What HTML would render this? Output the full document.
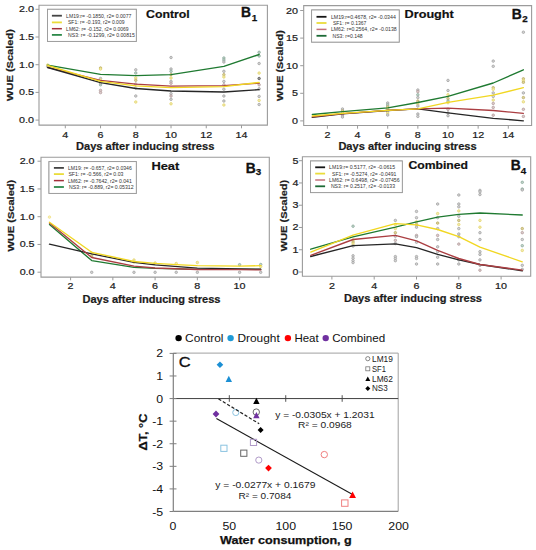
<!DOCTYPE html>
<html><head><meta charset="utf-8"><title>Figure</title>
<style>html,body{margin:0;padding:0;background:#fff;}svg{display:block;}</style>
</head><body>
<svg width="536" height="550" viewBox="0 0 536 550" font-family='"Liberation Sans", sans-serif'>
<rect width="536" height="550" fill="#fff"/>
<path d="M39,5.2 H267.4 V125.1 H39 Z" fill="none" stroke="#9b9b9b" stroke-width="1.1"/>
<line x1="35.50" y1="120.10" x2="39.00" y2="120.10" stroke="#9b9b9b" stroke-width="1"/>
<text x="34.00" y="123.10" font-size="9.6" text-anchor="end" textLength="14.95" lengthAdjust="spacingAndGlyphs" fill="#1c1c1c" stroke="#1c1c1c" stroke-width="0.22">0.0</text>
<line x1="35.50" y1="92.40" x2="39.00" y2="92.40" stroke="#9b9b9b" stroke-width="1"/>
<text x="34.00" y="95.40" font-size="9.6" text-anchor="end" textLength="14.95" lengthAdjust="spacingAndGlyphs" fill="#1c1c1c" stroke="#1c1c1c" stroke-width="0.22">0.5</text>
<line x1="35.50" y1="64.70" x2="39.00" y2="64.70" stroke="#9b9b9b" stroke-width="1"/>
<text x="34.00" y="67.70" font-size="9.6" text-anchor="end" textLength="14.95" lengthAdjust="spacingAndGlyphs" fill="#1c1c1c" stroke="#1c1c1c" stroke-width="0.22">1.0</text>
<line x1="35.50" y1="37.00" x2="39.00" y2="37.00" stroke="#9b9b9b" stroke-width="1"/>
<text x="34.00" y="40.00" font-size="9.6" text-anchor="end" textLength="14.95" lengthAdjust="spacingAndGlyphs" fill="#1c1c1c" stroke="#1c1c1c" stroke-width="0.22">1.5</text>
<line x1="35.50" y1="9.30" x2="39.00" y2="9.30" stroke="#9b9b9b" stroke-width="1"/>
<text x="34.00" y="12.30" font-size="9.6" text-anchor="end" textLength="14.95" lengthAdjust="spacingAndGlyphs" fill="#1c1c1c" stroke="#1c1c1c" stroke-width="0.22">2.0</text>
<line x1="65.30" y1="125.10" x2="65.30" y2="128.30" stroke="#9b9b9b" stroke-width="1"/>
<text x="65.30" y="137.90" font-size="9.6" text-anchor="middle" textLength="5.98" lengthAdjust="spacingAndGlyphs" fill="#1c1c1c" stroke="#1c1c1c" stroke-width="0.22">4</text>
<line x1="100.54" y1="125.10" x2="100.54" y2="128.30" stroke="#9b9b9b" stroke-width="1"/>
<text x="100.54" y="137.90" font-size="9.6" text-anchor="middle" textLength="5.98" lengthAdjust="spacingAndGlyphs" fill="#1c1c1c" stroke="#1c1c1c" stroke-width="0.22">6</text>
<line x1="135.78" y1="125.10" x2="135.78" y2="128.30" stroke="#9b9b9b" stroke-width="1"/>
<text x="135.78" y="137.90" font-size="9.6" text-anchor="middle" textLength="5.98" lengthAdjust="spacingAndGlyphs" fill="#1c1c1c" stroke="#1c1c1c" stroke-width="0.22">8</text>
<line x1="171.02" y1="125.10" x2="171.02" y2="128.30" stroke="#9b9b9b" stroke-width="1"/>
<text x="171.02" y="137.90" font-size="9.6" text-anchor="middle" textLength="11.96" lengthAdjust="spacingAndGlyphs" fill="#1c1c1c" stroke="#1c1c1c" stroke-width="0.22">10</text>
<line x1="206.26" y1="125.10" x2="206.26" y2="128.30" stroke="#9b9b9b" stroke-width="1"/>
<text x="206.26" y="137.90" font-size="9.6" text-anchor="middle" textLength="11.96" lengthAdjust="spacingAndGlyphs" fill="#1c1c1c" stroke="#1c1c1c" stroke-width="0.22">12</text>
<line x1="241.50" y1="125.10" x2="241.50" y2="128.30" stroke="#9b9b9b" stroke-width="1"/>
<text x="241.50" y="137.90" font-size="9.6" text-anchor="middle" textLength="11.96" lengthAdjust="spacingAndGlyphs" fill="#1c1c1c" stroke="#1c1c1c" stroke-width="0.22">14</text>
<text x="76.00" y="149.50" font-size="10.0" font-weight="bold" textLength="138.3" lengthAdjust="spacingAndGlyphs" fill="#1c1c1c" stroke="#1c1c1c" stroke-width="0.2">Days after inducing stress</text>
<text transform="translate(13.30,100.90) rotate(-90)" x="0" y="0" font-size="9.7" font-weight="bold" fill="#1c1c1c" stroke="#1c1c1c" stroke-width="0.2" textLength="71.8" lengthAdjust="spacingAndGlyphs">WUE (Scaled)</text>
<rect x="47.5" y="9.3" width="88.80000000000001" height="32.099999999999994" fill="#fff" stroke="#999" stroke-width="0.9"/>
<circle cx="47.68" cy="65.00" r="1.25" fill="#f2eab0" stroke="#e3d46a" stroke-width="0.75"/>
<circle cx="47.68" cy="66.50" r="1.25" fill="#d4d4d4" stroke="#a0a0a0" stroke-width="0.75"/>
<circle cx="100.54" cy="68.00" r="1.25" fill="#dcd49c" stroke="#b8a860" stroke-width="0.75"/>
<circle cx="100.54" cy="69.00" r="1.25" fill="#f2eab0" stroke="#e3d46a" stroke-width="0.75"/>
<circle cx="100.54" cy="78.50" r="1.25" fill="#d4d4d4" stroke="#a0a0a0" stroke-width="0.75"/>
<circle cx="100.54" cy="84.80" r="1.25" fill="#c4d4cc" stroke="#88a898" stroke-width="0.75"/>
<circle cx="100.54" cy="90.40" r="1.25" fill="#dccccc" stroke="#b09898" stroke-width="0.75"/>
<circle cx="100.54" cy="92.60" r="1.25" fill="#dccccc" stroke="#b09898" stroke-width="0.75"/>
<circle cx="100.54" cy="80.00" r="1.25" fill="#f2eab0" stroke="#e3d46a" stroke-width="0.75"/>
<circle cx="100.54" cy="83.00" r="1.25" fill="#d4d4d4" stroke="#a0a0a0" stroke-width="0.75"/>
<circle cx="135.78" cy="69.80" r="1.25" fill="#d4d4d4" stroke="#a0a0a0" stroke-width="0.75"/>
<circle cx="135.78" cy="73.00" r="1.25" fill="#c4d4cc" stroke="#88a898" stroke-width="0.75"/>
<circle cx="135.78" cy="78.00" r="1.25" fill="#f2eab0" stroke="#e3d46a" stroke-width="0.75"/>
<circle cx="135.78" cy="80.30" r="1.25" fill="#dcd49c" stroke="#b8a860" stroke-width="0.75"/>
<circle cx="135.78" cy="96.00" r="1.25" fill="#d4d4d4" stroke="#a0a0a0" stroke-width="0.75"/>
<circle cx="135.78" cy="102.00" r="1.25" fill="#f2eab0" stroke="#e3d46a" stroke-width="0.75"/>
<circle cx="135.78" cy="84.00" r="1.25" fill="#dccccc" stroke="#b09898" stroke-width="0.75"/>
<circle cx="135.78" cy="88.00" r="1.25" fill="#d4d4d4" stroke="#a0a0a0" stroke-width="0.75"/>
<circle cx="171.02" cy="57.50" r="1.25" fill="#d4d4d4" stroke="#a0a0a0" stroke-width="0.75"/>
<circle cx="171.02" cy="69.00" r="1.25" fill="#d4d4d4" stroke="#a0a0a0" stroke-width="0.75"/>
<circle cx="171.02" cy="71.30" r="1.25" fill="#c4d4cc" stroke="#88a898" stroke-width="0.75"/>
<circle cx="171.02" cy="74.70" r="1.25" fill="#dcd49c" stroke="#b8a860" stroke-width="0.75"/>
<circle cx="171.02" cy="78.00" r="1.25" fill="#f2eab0" stroke="#e3d46a" stroke-width="0.75"/>
<circle cx="171.02" cy="81.40" r="1.25" fill="#d4d4d4" stroke="#a0a0a0" stroke-width="0.75"/>
<circle cx="171.02" cy="83.20" r="1.25" fill="#dccccc" stroke="#b09898" stroke-width="0.75"/>
<circle cx="171.02" cy="93.70" r="1.25" fill="#d4d4d4" stroke="#a0a0a0" stroke-width="0.75"/>
<circle cx="171.02" cy="96.00" r="1.25" fill="#dccccc" stroke="#b09898" stroke-width="0.75"/>
<circle cx="171.02" cy="99.30" r="1.25" fill="#d4d4d4" stroke="#a0a0a0" stroke-width="0.75"/>
<circle cx="171.02" cy="103.80" r="1.25" fill="#f2eab0" stroke="#e3d46a" stroke-width="0.75"/>
<circle cx="223.88" cy="58.00" r="1.25" fill="#c4d4cc" stroke="#88a898" stroke-width="0.75"/>
<circle cx="223.88" cy="60.00" r="1.25" fill="#c4d4cc" stroke="#88a898" stroke-width="0.75"/>
<circle cx="223.88" cy="62.00" r="1.25" fill="#d4d4d4" stroke="#a0a0a0" stroke-width="0.75"/>
<circle cx="223.88" cy="71.30" r="1.25" fill="#d4d4d4" stroke="#a0a0a0" stroke-width="0.75"/>
<circle cx="223.88" cy="74.70" r="1.25" fill="#dcd49c" stroke="#b8a860" stroke-width="0.75"/>
<circle cx="223.88" cy="77.00" r="1.25" fill="#f2eab0" stroke="#e3d46a" stroke-width="0.75"/>
<circle cx="223.88" cy="81.40" r="1.25" fill="#d4d4d4" stroke="#a0a0a0" stroke-width="0.75"/>
<circle cx="223.88" cy="84.80" r="1.25" fill="#dccccc" stroke="#b09898" stroke-width="0.75"/>
<circle cx="223.88" cy="89.20" r="1.25" fill="#d4d4d4" stroke="#a0a0a0" stroke-width="0.75"/>
<circle cx="223.88" cy="96.00" r="1.25" fill="#d4d4d4" stroke="#a0a0a0" stroke-width="0.75"/>
<circle cx="223.88" cy="101.00" r="1.25" fill="#d4d4d4" stroke="#a0a0a0" stroke-width="0.75"/>
<circle cx="223.88" cy="105.00" r="1.25" fill="#f2eab0" stroke="#e3d46a" stroke-width="0.75"/>
<circle cx="259.12" cy="52.30" r="1.25" fill="#c4d4cc" stroke="#88a898" stroke-width="0.75"/>
<circle cx="259.12" cy="56.00" r="1.25" fill="#c4d4cc" stroke="#88a898" stroke-width="0.75"/>
<circle cx="259.12" cy="63.50" r="1.25" fill="#d4d4d4" stroke="#a0a0a0" stroke-width="0.75"/>
<circle cx="259.12" cy="73.10" r="1.25" fill="#f2eab0" stroke="#e3d46a" stroke-width="0.75"/>
<circle cx="259.12" cy="78.50" r="1.25" fill="#999" stroke="#555" stroke-width="0.75"/>
<circle cx="259.12" cy="84.80" r="1.25" fill="#dccccc" stroke="#b09898" stroke-width="0.75"/>
<circle cx="259.12" cy="88.80" r="1.25" fill="#d4d4d4" stroke="#a0a0a0" stroke-width="0.75"/>
<circle cx="259.12" cy="96.40" r="1.25" fill="#d4d4d4" stroke="#a0a0a0" stroke-width="0.75"/>
<circle cx="259.12" cy="100.40" r="1.25" fill="#f2eab0" stroke="#e3d46a" stroke-width="0.75"/>
<circle cx="259.12" cy="104.50" r="1.25" fill="#d4d4d4" stroke="#a0a0a0" stroke-width="0.75"/>
<polyline points="47.68,65.20 100.54,74.40 135.78,75.70 171.02,74.70 223.88,66.40 259.12,54.50" fill="none" stroke="#1f7a31" stroke-width="1.35" stroke-linejoin="round" stroke-linecap="round"/>
<polyline points="47.68,67.30 100.54,80.40 135.78,84.20 171.02,86.20 223.88,85.60 259.12,83.20" fill="none" stroke="#ab3e42" stroke-width="1.35" stroke-linejoin="round" stroke-linecap="round"/>
<polyline points="47.68,67.50 100.54,82.60 135.78,88.50 171.02,91.00 223.88,92.00 259.12,89.70" fill="none" stroke="#262626" stroke-width="1.35" stroke-linejoin="round" stroke-linecap="round"/>
<polyline points="47.68,65.50 100.54,81.40 135.78,85.90 171.02,87.60 223.88,86.60 259.12,82.40" fill="none" stroke="#f1d722" stroke-width="1.35" stroke-linejoin="round" stroke-linecap="round"/>
<rect x="47.5" y="9.3" width="88.80000000000001" height="32.099999999999994" fill="#fff" stroke="#999" stroke-width="0.9"/>
<line x1="51.90" y1="15.70" x2="61.90" y2="15.70" stroke="#444" stroke-width="1.8"/>
<text x="66.10" y="17.70" font-size="5.6" textLength="65.3" lengthAdjust="spacingAndGlyphs" fill="#333333">LM19:r= -0.1850, r2= 0.0077</text>
<line x1="51.90" y1="22.40" x2="61.90" y2="22.40" stroke="#eadc3a" stroke-width="1.8"/>
<text x="68.00" y="24.40" font-size="5.6" textLength="56.5" lengthAdjust="spacingAndGlyphs" fill="#333333">SF1: r= -0.193, r2= 0.009</text>
<line x1="51.90" y1="28.70" x2="61.90" y2="28.70" stroke="#a3303a" stroke-width="1.5"/>
<text x="66.10" y="30.70" font-size="5.6" textLength="62.5" lengthAdjust="spacingAndGlyphs" fill="#333333">LM62: r= -0.152, r2= 0.0069</text>
<line x1="51.90" y1="34.90" x2="61.90" y2="34.90" stroke="#2d8a4a" stroke-width="1.8"/>
<text x="68.00" y="36.90" font-size="5.6" textLength="66.8" lengthAdjust="spacingAndGlyphs" fill="#333333">NS3: r= -0.1299, r2= 0.00815</text>
<text x="146.00" y="18.40" font-size="11.5" font-weight="bold" textLength="43.7" lengthAdjust="spacingAndGlyphs" fill="#111" stroke="#111" stroke-width="0.2">Control</text>
<text x="241.00" y="17.40" font-size="13.8" font-weight="bold" fill="#111" stroke="#111" stroke-width="0.35">B</text>
<text x="251.70" y="20.50" font-size="9.8" font-weight="bold" fill="#111" stroke="#111" stroke-width="0.25">1</text>
<path d="M303.7,5.6 H531.6 V125.5 H303.7 Z" fill="none" stroke="#9b9b9b" stroke-width="1.1"/>
<line x1="300.20" y1="120.90" x2="303.70" y2="120.90" stroke="#9b9b9b" stroke-width="1"/>
<text x="298.00" y="123.90" font-size="9.6" text-anchor="end" textLength="5.98" lengthAdjust="spacingAndGlyphs" fill="#1c1c1c" stroke="#1c1c1c" stroke-width="0.22">0</text>
<line x1="300.20" y1="93.30" x2="303.70" y2="93.30" stroke="#9b9b9b" stroke-width="1"/>
<text x="298.00" y="96.30" font-size="9.6" text-anchor="end" textLength="5.98" lengthAdjust="spacingAndGlyphs" fill="#1c1c1c" stroke="#1c1c1c" stroke-width="0.22">5</text>
<line x1="300.20" y1="65.70" x2="303.70" y2="65.70" stroke="#9b9b9b" stroke-width="1"/>
<text x="298.00" y="68.70" font-size="9.6" text-anchor="end" textLength="11.96" lengthAdjust="spacingAndGlyphs" fill="#1c1c1c" stroke="#1c1c1c" stroke-width="0.22">10</text>
<line x1="300.20" y1="38.10" x2="303.70" y2="38.10" stroke="#9b9b9b" stroke-width="1"/>
<text x="298.00" y="41.10" font-size="9.6" text-anchor="end" textLength="11.96" lengthAdjust="spacingAndGlyphs" fill="#1c1c1c" stroke="#1c1c1c" stroke-width="0.22">15</text>
<line x1="300.20" y1="10.50" x2="303.70" y2="10.50" stroke="#9b9b9b" stroke-width="1"/>
<text x="298.00" y="13.50" font-size="9.6" text-anchor="end" textLength="11.96" lengthAdjust="spacingAndGlyphs" fill="#1c1c1c" stroke="#1c1c1c" stroke-width="0.22">20</text>
<line x1="327.40" y1="125.50" x2="327.40" y2="128.70" stroke="#9b9b9b" stroke-width="1"/>
<text x="327.40" y="137.90" font-size="9.6" text-anchor="middle" textLength="5.98" lengthAdjust="spacingAndGlyphs" fill="#1c1c1c" stroke="#1c1c1c" stroke-width="0.22">2</text>
<line x1="357.55" y1="125.50" x2="357.55" y2="128.70" stroke="#9b9b9b" stroke-width="1"/>
<text x="357.55" y="137.90" font-size="9.6" text-anchor="middle" textLength="5.98" lengthAdjust="spacingAndGlyphs" fill="#1c1c1c" stroke="#1c1c1c" stroke-width="0.22">4</text>
<line x1="387.70" y1="125.50" x2="387.70" y2="128.70" stroke="#9b9b9b" stroke-width="1"/>
<text x="387.70" y="137.90" font-size="9.6" text-anchor="middle" textLength="5.98" lengthAdjust="spacingAndGlyphs" fill="#1c1c1c" stroke="#1c1c1c" stroke-width="0.22">6</text>
<line x1="417.85" y1="125.50" x2="417.85" y2="128.70" stroke="#9b9b9b" stroke-width="1"/>
<text x="417.85" y="137.90" font-size="9.6" text-anchor="middle" textLength="5.98" lengthAdjust="spacingAndGlyphs" fill="#1c1c1c" stroke="#1c1c1c" stroke-width="0.22">8</text>
<line x1="448.00" y1="125.50" x2="448.00" y2="128.70" stroke="#9b9b9b" stroke-width="1"/>
<text x="448.00" y="137.90" font-size="9.6" text-anchor="middle" textLength="11.96" lengthAdjust="spacingAndGlyphs" fill="#1c1c1c" stroke="#1c1c1c" stroke-width="0.22">10</text>
<line x1="478.15" y1="125.50" x2="478.15" y2="128.70" stroke="#9b9b9b" stroke-width="1"/>
<text x="478.15" y="137.90" font-size="9.6" text-anchor="middle" textLength="11.96" lengthAdjust="spacingAndGlyphs" fill="#1c1c1c" stroke="#1c1c1c" stroke-width="0.22">12</text>
<line x1="508.30" y1="125.50" x2="508.30" y2="128.70" stroke="#9b9b9b" stroke-width="1"/>
<text x="508.30" y="137.90" font-size="9.6" text-anchor="middle" textLength="11.96" lengthAdjust="spacingAndGlyphs" fill="#1c1c1c" stroke="#1c1c1c" stroke-width="0.22">14</text>
<text x="338.40" y="149.70" font-size="10.0" font-weight="bold" textLength="138.20000000000005" lengthAdjust="spacingAndGlyphs" fill="#1c1c1c" stroke="#1c1c1c" stroke-width="0.2">Days after inducing stress</text>
<text transform="translate(283.40,101.00) rotate(-90)" x="0" y="0" font-size="9.7" font-weight="bold" fill="#1c1c1c" stroke="#1c1c1c" stroke-width="0.2" textLength="70.8" lengthAdjust="spacingAndGlyphs">WUE (Scaled)</text>
<rect x="311.6" y="10" width="87.59999999999997" height="32.1" fill="#fff" stroke="#999" stroke-width="0.9"/>
<circle cx="342.48" cy="109.00" r="1.25" fill="#d4d4d4" stroke="#a0a0a0" stroke-width="0.75"/>
<circle cx="342.48" cy="111.00" r="1.25" fill="#dcd49c" stroke="#b8a860" stroke-width="0.75"/>
<circle cx="342.48" cy="113.00" r="1.25" fill="#f2eab0" stroke="#e3d46a" stroke-width="0.75"/>
<circle cx="342.48" cy="115.00" r="1.25" fill="#dccccc" stroke="#b09898" stroke-width="0.75"/>
<circle cx="342.48" cy="117.00" r="1.25" fill="#d4d4d4" stroke="#a0a0a0" stroke-width="0.75"/>
<circle cx="387.70" cy="103.00" r="1.25" fill="#d4d4d4" stroke="#a0a0a0" stroke-width="0.75"/>
<circle cx="387.70" cy="105.00" r="1.25" fill="#c4d4cc" stroke="#88a898" stroke-width="0.75"/>
<circle cx="387.70" cy="107.00" r="1.25" fill="#dcd49c" stroke="#b8a860" stroke-width="0.75"/>
<circle cx="387.70" cy="109.00" r="1.25" fill="#f2eab0" stroke="#e3d46a" stroke-width="0.75"/>
<circle cx="387.70" cy="111.00" r="1.25" fill="#d4d4d4" stroke="#a0a0a0" stroke-width="0.75"/>
<circle cx="387.70" cy="113.00" r="1.25" fill="#f2eab0" stroke="#e3d46a" stroke-width="0.75"/>
<circle cx="387.70" cy="115.00" r="1.25" fill="#d4d4d4" stroke="#a0a0a0" stroke-width="0.75"/>
<circle cx="417.85" cy="90.00" r="1.25" fill="#d4d4d4" stroke="#a0a0a0" stroke-width="0.75"/>
<circle cx="417.85" cy="91.70" r="1.25" fill="#dccccc" stroke="#b09898" stroke-width="0.75"/>
<circle cx="417.85" cy="94.80" r="1.25" fill="#c4d4cc" stroke="#88a898" stroke-width="0.75"/>
<circle cx="417.85" cy="97.60" r="1.25" fill="#d4d4d4" stroke="#a0a0a0" stroke-width="0.75"/>
<circle cx="417.85" cy="101.10" r="1.25" fill="#dcd49c" stroke="#b8a860" stroke-width="0.75"/>
<circle cx="417.85" cy="104.00" r="1.25" fill="#f2eab0" stroke="#e3d46a" stroke-width="0.75"/>
<circle cx="417.85" cy="106.00" r="1.25" fill="#d4d4d4" stroke="#a0a0a0" stroke-width="0.75"/>
<circle cx="417.85" cy="114.00" r="1.25" fill="#d4d4d4" stroke="#a0a0a0" stroke-width="0.75"/>
<circle cx="417.85" cy="116.40" r="1.25" fill="#d4d4d4" stroke="#a0a0a0" stroke-width="0.75"/>
<circle cx="448.00" cy="80.40" r="1.25" fill="#d4d4d4" stroke="#a0a0a0" stroke-width="0.75"/>
<circle cx="448.00" cy="90.50" r="1.25" fill="#d4d4d4" stroke="#a0a0a0" stroke-width="0.75"/>
<circle cx="448.00" cy="94.80" r="1.25" fill="#f2eab0" stroke="#e3d46a" stroke-width="0.75"/>
<circle cx="448.00" cy="98.70" r="1.25" fill="#dcd49c" stroke="#b8a860" stroke-width="0.75"/>
<circle cx="448.00" cy="101.10" r="1.25" fill="#c4d4cc" stroke="#88a898" stroke-width="0.75"/>
<circle cx="448.00" cy="102.70" r="1.25" fill="#f2eab0" stroke="#e3d46a" stroke-width="0.75"/>
<circle cx="448.00" cy="109.30" r="1.25" fill="#dccccc" stroke="#b09898" stroke-width="0.75"/>
<circle cx="448.00" cy="112.90" r="1.25" fill="#d4d4d4" stroke="#a0a0a0" stroke-width="0.75"/>
<circle cx="448.00" cy="115.70" r="1.25" fill="#d4d4d4" stroke="#a0a0a0" stroke-width="0.75"/>
<circle cx="493.23" cy="61.10" r="1.25" fill="#d4d4d4" stroke="#a0a0a0" stroke-width="0.75"/>
<circle cx="493.23" cy="66.30" r="1.25" fill="#d4d4d4" stroke="#a0a0a0" stroke-width="0.75"/>
<circle cx="493.23" cy="87.70" r="1.25" fill="#dcd49c" stroke="#b8a860" stroke-width="0.75"/>
<circle cx="493.23" cy="89.30" r="1.25" fill="#f2eab0" stroke="#e3d46a" stroke-width="0.75"/>
<circle cx="493.23" cy="92.90" r="1.25" fill="#d4d4d4" stroke="#a0a0a0" stroke-width="0.75"/>
<circle cx="493.23" cy="96.40" r="1.25" fill="#d4d4d4" stroke="#a0a0a0" stroke-width="0.75"/>
<circle cx="493.23" cy="100.00" r="1.25" fill="#f2eab0" stroke="#e3d46a" stroke-width="0.75"/>
<circle cx="493.23" cy="103.40" r="1.25" fill="#dccccc" stroke="#b09898" stroke-width="0.75"/>
<circle cx="493.23" cy="107.40" r="1.25" fill="#dccccc" stroke="#b09898" stroke-width="0.75"/>
<circle cx="493.23" cy="115.20" r="1.25" fill="#dccccc" stroke="#b09898" stroke-width="0.75"/>
<circle cx="523.38" cy="32.20" r="1.25" fill="#d4d4d4" stroke="#a0a0a0" stroke-width="0.75"/>
<circle cx="523.38" cy="78.80" r="1.25" fill="#dcd49c" stroke="#b8a860" stroke-width="0.75"/>
<circle cx="523.38" cy="80.60" r="1.25" fill="#f2eab0" stroke="#e3d46a" stroke-width="0.75"/>
<circle cx="523.38" cy="82.30" r="1.25" fill="#dcd49c" stroke="#b8a860" stroke-width="0.75"/>
<circle cx="523.38" cy="92.90" r="1.25" fill="#d4d4d4" stroke="#a0a0a0" stroke-width="0.75"/>
<circle cx="523.38" cy="97.60" r="1.25" fill="#dcd49c" stroke="#b8a860" stroke-width="0.75"/>
<circle cx="523.38" cy="101.80" r="1.25" fill="#f2eab0" stroke="#e3d46a" stroke-width="0.75"/>
<circle cx="523.38" cy="109.30" r="1.25" fill="#dccccc" stroke="#b09898" stroke-width="0.75"/>
<circle cx="523.38" cy="116.40" r="1.25" fill="#dccccc" stroke="#b09898" stroke-width="0.75"/>
<polyline points="312.32,114.50 342.48,111.70 387.70,107.90 417.85,102.50 448.00,96.40 493.23,83.00 523.38,69.80" fill="none" stroke="#1f7a31" stroke-width="1.35" stroke-linejoin="round" stroke-linecap="round"/>
<polyline points="312.32,117.30 342.48,113.90 387.70,110.50 417.85,108.90 448.00,112.90 493.23,118.30 523.38,120.80" fill="none" stroke="#262626" stroke-width="1.35" stroke-linejoin="round" stroke-linecap="round"/>
<polyline points="312.32,116.80 342.48,113.60 387.70,110.30 417.85,108.80 448.00,108.20 493.23,110.50 523.38,113.30" fill="none" stroke="#ab3e42" stroke-width="1.35" stroke-linejoin="round" stroke-linecap="round"/>
<polyline points="312.32,116.00 342.48,113.30 387.70,110.30 417.85,108.80 448.00,102.30 493.23,95.20 523.38,87.70" fill="none" stroke="#f1d722" stroke-width="1.35" stroke-linejoin="round" stroke-linecap="round"/>
<rect x="311.6" y="10" width="87.59999999999997" height="32.1" fill="#fff" stroke="#999" stroke-width="0.9"/>
<line x1="316.50" y1="16.80" x2="326.50" y2="16.80" stroke="#151515" stroke-width="1.8"/>
<text x="330.90" y="18.80" font-size="5.6" textLength="64.9" lengthAdjust="spacingAndGlyphs" fill="#333333">LM19:r=0.4678, r2= -0.0344</text>
<line x1="316.50" y1="23.00" x2="326.50" y2="23.00" stroke="#eadc3a" stroke-width="1.8"/>
<text x="332.90" y="25.00" font-size="5.6" textLength="33.5" lengthAdjust="spacingAndGlyphs" fill="#333333">SF1: r= 0.1367</text>
<line x1="316.50" y1="29.40" x2="326.50" y2="29.40" stroke="#c4707a" stroke-width="1.5"/>
<text x="330.90" y="31.40" font-size="5.6" textLength="65.8" lengthAdjust="spacingAndGlyphs" fill="#333333">LM62: r=0.2564, r2= -0.0138</text>
<line x1="316.50" y1="35.80" x2="326.50" y2="35.80" stroke="#1c6a35" stroke-width="1.8"/>
<text x="332.50" y="37.80" font-size="5.6" textLength="30.2" lengthAdjust="spacingAndGlyphs" fill="#333333">NS3: r=0.148</text>
<text x="404.60" y="18.30" font-size="11.5" font-weight="bold" textLength="49.2" lengthAdjust="spacingAndGlyphs" fill="#111" stroke="#111" stroke-width="0.2">Drought</text>
<text x="511.70" y="18.80" font-size="13.8" font-weight="bold" fill="#111" stroke="#111" stroke-width="0.35">B</text>
<text x="522.30" y="21.90" font-size="9.8" font-weight="bold" fill="#111" stroke="#111" stroke-width="0.25">2</text>
<path d="M41.0,157.2 H269.3 V277.1 H41.0 Z" fill="none" stroke="#9b9b9b" stroke-width="1.1"/>
<line x1="37.50" y1="272.20" x2="41.00" y2="272.20" stroke="#9b9b9b" stroke-width="1"/>
<text x="34.60" y="275.20" font-size="9.6" text-anchor="end" textLength="14.95" lengthAdjust="spacingAndGlyphs" fill="#1c1c1c" stroke="#1c1c1c" stroke-width="0.22">0.0</text>
<line x1="37.50" y1="244.45" x2="41.00" y2="244.45" stroke="#9b9b9b" stroke-width="1"/>
<text x="34.60" y="247.45" font-size="9.6" text-anchor="end" textLength="14.95" lengthAdjust="spacingAndGlyphs" fill="#1c1c1c" stroke="#1c1c1c" stroke-width="0.22">0.5</text>
<line x1="37.50" y1="216.70" x2="41.00" y2="216.70" stroke="#9b9b9b" stroke-width="1"/>
<text x="34.60" y="219.70" font-size="9.6" text-anchor="end" textLength="14.95" lengthAdjust="spacingAndGlyphs" fill="#1c1c1c" stroke="#1c1c1c" stroke-width="0.22">1.0</text>
<line x1="37.50" y1="188.95" x2="41.00" y2="188.95" stroke="#9b9b9b" stroke-width="1"/>
<text x="34.60" y="191.95" font-size="9.6" text-anchor="end" textLength="14.95" lengthAdjust="spacingAndGlyphs" fill="#1c1c1c" stroke="#1c1c1c" stroke-width="0.22">1.5</text>
<line x1="37.50" y1="161.20" x2="41.00" y2="161.20" stroke="#9b9b9b" stroke-width="1"/>
<text x="34.60" y="164.20" font-size="9.6" text-anchor="end" textLength="14.95" lengthAdjust="spacingAndGlyphs" fill="#1c1c1c" stroke="#1c1c1c" stroke-width="0.22">2.0</text>
<line x1="70.60" y1="277.10" x2="70.60" y2="280.30" stroke="#9b9b9b" stroke-width="1"/>
<text x="70.60" y="288.70" font-size="9.6" text-anchor="middle" textLength="5.98" lengthAdjust="spacingAndGlyphs" fill="#1c1c1c" stroke="#1c1c1c" stroke-width="0.22">2</text>
<line x1="112.85" y1="277.10" x2="112.85" y2="280.30" stroke="#9b9b9b" stroke-width="1"/>
<text x="112.85" y="288.70" font-size="9.6" text-anchor="middle" textLength="5.98" lengthAdjust="spacingAndGlyphs" fill="#1c1c1c" stroke="#1c1c1c" stroke-width="0.22">4</text>
<line x1="155.10" y1="277.10" x2="155.10" y2="280.30" stroke="#9b9b9b" stroke-width="1"/>
<text x="155.10" y="288.70" font-size="9.6" text-anchor="middle" textLength="5.98" lengthAdjust="spacingAndGlyphs" fill="#1c1c1c" stroke="#1c1c1c" stroke-width="0.22">6</text>
<line x1="197.35" y1="277.10" x2="197.35" y2="280.30" stroke="#9b9b9b" stroke-width="1"/>
<text x="197.35" y="288.70" font-size="9.6" text-anchor="middle" textLength="5.98" lengthAdjust="spacingAndGlyphs" fill="#1c1c1c" stroke="#1c1c1c" stroke-width="0.22">8</text>
<line x1="239.60" y1="277.10" x2="239.60" y2="280.30" stroke="#9b9b9b" stroke-width="1"/>
<text x="239.60" y="288.70" font-size="9.6" text-anchor="middle" textLength="11.96" lengthAdjust="spacingAndGlyphs" fill="#1c1c1c" stroke="#1c1c1c" stroke-width="0.22">10</text>
<text x="82.50" y="302.90" font-size="10.0" font-weight="bold" textLength="138.0" lengthAdjust="spacingAndGlyphs" fill="#1c1c1c" stroke="#1c1c1c" stroke-width="0.2">Days after inducing stress</text>
<text transform="translate(13.60,251.60) rotate(-90)" x="0" y="0" font-size="9.7" font-weight="bold" fill="#1c1c1c" stroke="#1c1c1c" stroke-width="0.2" textLength="71.8" lengthAdjust="spacingAndGlyphs">WUE (Scaled)</text>
<rect x="49" y="161.6" width="87.30000000000001" height="31.80000000000001" fill="#fff" stroke="#999" stroke-width="0.9"/>
<circle cx="49.48" cy="217.10" r="1.25" fill="#f8f0c0" stroke="#f0e080" stroke-width="0.75"/>
<circle cx="91.72" cy="272.30" r="1.25" fill="#d4d4d4" stroke="#a0a0a0" stroke-width="0.75"/>
<circle cx="91.72" cy="256.00" r="1.25" fill="#dcd49c" stroke="#b8a860" stroke-width="0.75"/>
<circle cx="91.72" cy="253.00" r="1.25" fill="#f2eab0" stroke="#e3d46a" stroke-width="0.75"/>
<circle cx="133.97" cy="272.30" r="1.25" fill="#d4d4d4" stroke="#a0a0a0" stroke-width="0.75"/>
<circle cx="133.97" cy="262.00" r="1.25" fill="#f2eab0" stroke="#e3d46a" stroke-width="0.75"/>
<circle cx="133.97" cy="260.00" r="1.25" fill="#f2eab0" stroke="#e3d46a" stroke-width="0.75"/>
<circle cx="155.10" cy="272.30" r="1.25" fill="#d4d4d4" stroke="#a0a0a0" stroke-width="0.75"/>
<circle cx="155.10" cy="263.00" r="1.25" fill="#f2eab0" stroke="#e3d46a" stroke-width="0.75"/>
<circle cx="176.22" cy="272.30" r="1.25" fill="#d4d4d4" stroke="#a0a0a0" stroke-width="0.75"/>
<circle cx="176.22" cy="263.50" r="1.25" fill="#f2eab0" stroke="#e3d46a" stroke-width="0.75"/>
<circle cx="197.35" cy="272.30" r="1.25" fill="#d4d4d4" stroke="#a0a0a0" stroke-width="0.75"/>
<circle cx="197.35" cy="262.50" r="1.25" fill="#f2eab0" stroke="#e3d46a" stroke-width="0.75"/>
<circle cx="239.60" cy="272.30" r="1.25" fill="#d4d4d4" stroke="#a0a0a0" stroke-width="0.75"/>
<circle cx="239.60" cy="264.70" r="1.25" fill="#c4d4cc" stroke="#88a898" stroke-width="0.75"/>
<circle cx="260.73" cy="272.30" r="1.25" fill="#d4d4d4" stroke="#a0a0a0" stroke-width="0.75"/>
<circle cx="260.73" cy="264.50" r="1.25" fill="#c4d4cc" stroke="#88a898" stroke-width="0.75"/>
<circle cx="260.73" cy="266.50" r="1.25" fill="#f2eab0" stroke="#e3d46a" stroke-width="0.75"/>
<polyline points="49.48,224.60 91.72,260.60 133.97,267.30 155.10,268.30 197.35,269.30 260.73,269.30" fill="none" stroke="#1f7a31" stroke-width="1.35" stroke-linejoin="round" stroke-linecap="round"/>
<polyline points="49.48,244.20 91.72,253.90 133.97,262.40 155.10,264.80 197.35,268.10 260.73,269.20" fill="none" stroke="#262626" stroke-width="1.35" stroke-linejoin="round" stroke-linecap="round"/>
<polyline points="49.48,223.10 91.72,257.50 133.97,266.20 155.10,268.00 197.35,269.50 239.60,269.60 260.73,269.90" fill="none" stroke="#ab3e42" stroke-width="1.35" stroke-linejoin="round" stroke-linecap="round"/>
<polyline points="49.48,222.20 91.72,252.30 133.97,261.50 155.10,263.30 176.22,264.60 197.35,265.60 239.60,266.10 260.73,265.70" fill="none" stroke="#f1d722" stroke-width="1.35" stroke-linejoin="round" stroke-linecap="round"/>
<rect x="49" y="161.6" width="87.30000000000001" height="31.80000000000001" fill="#fff" stroke="#999" stroke-width="0.9"/>
<line x1="53.90" y1="167.90" x2="63.90" y2="167.90" stroke="#444" stroke-width="1.8"/>
<text x="68.00" y="169.90" font-size="5.6" textLength="63.8" lengthAdjust="spacingAndGlyphs" fill="#333333">LM19: r= -0.657, r2= 0.0346</text>
<line x1="53.90" y1="174.10" x2="63.90" y2="174.10" stroke="#eadc3a" stroke-width="1.8"/>
<text x="68.40" y="176.10" font-size="5.6" textLength="55.0" lengthAdjust="spacingAndGlyphs" fill="#333333">SF1: r= -0.566, r2= 0.03</text>
<line x1="53.90" y1="180.60" x2="63.90" y2="180.60" stroke="#a3303a" stroke-width="1.5"/>
<text x="68.00" y="182.60" font-size="5.6" textLength="63.8" lengthAdjust="spacingAndGlyphs" fill="#333333">LM62: r= -0.7642, r2= 0.041</text>
<line x1="53.90" y1="187.00" x2="63.90" y2="187.00" stroke="#2d8a4a" stroke-width="1.8"/>
<text x="69.10" y="189.00" font-size="5.6" textLength="64.5" lengthAdjust="spacingAndGlyphs" fill="#333333">NS3: r= -0.889, r2= 0.05312</text>
<text x="151.40" y="170.30" font-size="11.5" font-weight="bold" textLength="27.9" lengthAdjust="spacingAndGlyphs" fill="#111" stroke="#111" stroke-width="0.2">Heat</text>
<text x="245.80" y="172.80" font-size="13.8" font-weight="bold" fill="#111" stroke="#111" stroke-width="0.35">B</text>
<text x="255.70" y="175.40" font-size="9.8" font-weight="bold" fill="#111" stroke="#111" stroke-width="0.25">3</text>
<path d="M302.4,156.7 H530.7 V276.3 H302.4 Z" fill="none" stroke="#9b9b9b" stroke-width="1.1"/>
<line x1="298.90" y1="272.00" x2="302.40" y2="272.00" stroke="#9b9b9b" stroke-width="1"/>
<text x="298.60" y="275.00" font-size="9.6" text-anchor="end" textLength="5.98" lengthAdjust="spacingAndGlyphs" fill="#1c1c1c" stroke="#1c1c1c" stroke-width="0.22">0</text>
<line x1="298.90" y1="249.74" x2="302.40" y2="249.74" stroke="#9b9b9b" stroke-width="1"/>
<text x="298.60" y="252.74" font-size="9.6" text-anchor="end" textLength="5.98" lengthAdjust="spacingAndGlyphs" fill="#1c1c1c" stroke="#1c1c1c" stroke-width="0.22">1</text>
<line x1="298.90" y1="227.48" x2="302.40" y2="227.48" stroke="#9b9b9b" stroke-width="1"/>
<text x="298.60" y="230.48" font-size="9.6" text-anchor="end" textLength="5.98" lengthAdjust="spacingAndGlyphs" fill="#1c1c1c" stroke="#1c1c1c" stroke-width="0.22">2</text>
<line x1="298.90" y1="205.22" x2="302.40" y2="205.22" stroke="#9b9b9b" stroke-width="1"/>
<text x="298.60" y="208.22" font-size="9.6" text-anchor="end" textLength="5.98" lengthAdjust="spacingAndGlyphs" fill="#1c1c1c" stroke="#1c1c1c" stroke-width="0.22">3</text>
<line x1="298.90" y1="182.96" x2="302.40" y2="182.96" stroke="#9b9b9b" stroke-width="1"/>
<text x="298.60" y="185.96" font-size="9.6" text-anchor="end" textLength="5.98" lengthAdjust="spacingAndGlyphs" fill="#1c1c1c" stroke="#1c1c1c" stroke-width="0.22">4</text>
<line x1="298.90" y1="160.70" x2="302.40" y2="160.70" stroke="#9b9b9b" stroke-width="1"/>
<text x="298.60" y="163.70" font-size="9.6" text-anchor="end" textLength="5.98" lengthAdjust="spacingAndGlyphs" fill="#1c1c1c" stroke="#1c1c1c" stroke-width="0.22">5</text>
<line x1="331.90" y1="276.30" x2="331.90" y2="279.50" stroke="#9b9b9b" stroke-width="1"/>
<text x="331.90" y="289.00" font-size="9.6" text-anchor="middle" textLength="5.98" lengthAdjust="spacingAndGlyphs" fill="#1c1c1c" stroke="#1c1c1c" stroke-width="0.22">2</text>
<line x1="374.20" y1="276.30" x2="374.20" y2="279.50" stroke="#9b9b9b" stroke-width="1"/>
<text x="374.20" y="289.00" font-size="9.6" text-anchor="middle" textLength="5.98" lengthAdjust="spacingAndGlyphs" fill="#1c1c1c" stroke="#1c1c1c" stroke-width="0.22">4</text>
<line x1="416.50" y1="276.30" x2="416.50" y2="279.50" stroke="#9b9b9b" stroke-width="1"/>
<text x="416.50" y="289.00" font-size="9.6" text-anchor="middle" textLength="5.98" lengthAdjust="spacingAndGlyphs" fill="#1c1c1c" stroke="#1c1c1c" stroke-width="0.22">6</text>
<line x1="458.80" y1="276.30" x2="458.80" y2="279.50" stroke="#9b9b9b" stroke-width="1"/>
<text x="458.80" y="289.00" font-size="9.6" text-anchor="middle" textLength="5.98" lengthAdjust="spacingAndGlyphs" fill="#1c1c1c" stroke="#1c1c1c" stroke-width="0.22">8</text>
<line x1="501.10" y1="276.30" x2="501.10" y2="279.50" stroke="#9b9b9b" stroke-width="1"/>
<text x="501.10" y="289.00" font-size="9.6" text-anchor="middle" textLength="11.96" lengthAdjust="spacingAndGlyphs" fill="#1c1c1c" stroke="#1c1c1c" stroke-width="0.22">10</text>
<text x="344.00" y="302.00" font-size="10.0" font-weight="bold" textLength="138" lengthAdjust="spacingAndGlyphs" fill="#1c1c1c" stroke="#1c1c1c" stroke-width="0.2">Days after inducing stress</text>
<text transform="translate(287.20,251.20) rotate(-90)" x="0" y="0" font-size="9.7" font-weight="bold" fill="#1c1c1c" stroke="#1c1c1c" stroke-width="0.2" textLength="71.4" lengthAdjust="spacingAndGlyphs">WUE (Scaled)</text>
<rect x="310.5" y="161" width="91.80000000000001" height="31.599999999999994" fill="#fff" stroke="#999" stroke-width="0.9"/>
<circle cx="353.05" cy="226.20" r="1.25" fill="#c4d4cc" stroke="#88a898" stroke-width="0.75"/>
<circle cx="353.05" cy="240.00" r="1.25" fill="#f2eab0" stroke="#e3d46a" stroke-width="0.75"/>
<circle cx="353.05" cy="242.00" r="1.25" fill="#dcd49c" stroke="#b8a860" stroke-width="0.75"/>
<circle cx="353.05" cy="244.00" r="1.25" fill="#f2eab0" stroke="#e3d46a" stroke-width="0.75"/>
<circle cx="353.05" cy="246.00" r="1.25" fill="#d4d4d4" stroke="#a0a0a0" stroke-width="0.75"/>
<circle cx="353.05" cy="255.80" r="1.25" fill="#d4d4d4" stroke="#a0a0a0" stroke-width="0.75"/>
<circle cx="353.05" cy="258.20" r="1.25" fill="#d4d4d4" stroke="#a0a0a0" stroke-width="0.75"/>
<circle cx="353.05" cy="260.60" r="1.25" fill="#d4d4d4" stroke="#a0a0a0" stroke-width="0.75"/>
<circle cx="353.05" cy="262.60" r="1.25" fill="#d4d4d4" stroke="#a0a0a0" stroke-width="0.75"/>
<circle cx="395.35" cy="220.40" r="1.25" fill="#d4d4d4" stroke="#a0a0a0" stroke-width="0.75"/>
<circle cx="395.35" cy="224.50" r="1.25" fill="#f2eab0" stroke="#e3d46a" stroke-width="0.75"/>
<circle cx="395.35" cy="228.60" r="1.25" fill="#f2eab0" stroke="#e3d46a" stroke-width="0.75"/>
<circle cx="395.35" cy="232.70" r="1.25" fill="#dcd49c" stroke="#b8a860" stroke-width="0.75"/>
<circle cx="395.35" cy="236.20" r="1.25" fill="#d4d4d4" stroke="#a0a0a0" stroke-width="0.75"/>
<circle cx="395.35" cy="240.30" r="1.25" fill="#dccccc" stroke="#b09898" stroke-width="0.75"/>
<circle cx="395.35" cy="243.50" r="1.25" fill="#d4d4d4" stroke="#a0a0a0" stroke-width="0.75"/>
<circle cx="395.35" cy="256.60" r="1.25" fill="#d4d4d4" stroke="#a0a0a0" stroke-width="0.75"/>
<circle cx="395.35" cy="258.50" r="1.25" fill="#d4d4d4" stroke="#a0a0a0" stroke-width="0.75"/>
<circle cx="395.35" cy="260.70" r="1.25" fill="#d4d4d4" stroke="#a0a0a0" stroke-width="0.75"/>
<circle cx="416.50" cy="211.40" r="1.25" fill="#d4d4d4" stroke="#a0a0a0" stroke-width="0.75"/>
<circle cx="416.50" cy="217.70" r="1.25" fill="#d4d4d4" stroke="#a0a0a0" stroke-width="0.75"/>
<circle cx="416.50" cy="221.80" r="1.25" fill="#f2eab0" stroke="#e3d46a" stroke-width="0.75"/>
<circle cx="416.50" cy="224.50" r="1.25" fill="#dcd49c" stroke="#b8a860" stroke-width="0.75"/>
<circle cx="416.50" cy="227.20" r="1.25" fill="#d4d4d4" stroke="#a0a0a0" stroke-width="0.75"/>
<circle cx="416.50" cy="235.40" r="1.25" fill="#dccccc" stroke="#b09898" stroke-width="0.75"/>
<circle cx="416.50" cy="236.70" r="1.25" fill="#d4d4d4" stroke="#a0a0a0" stroke-width="0.75"/>
<circle cx="416.50" cy="242.20" r="1.25" fill="#d4d4d4" stroke="#a0a0a0" stroke-width="0.75"/>
<circle cx="416.50" cy="256.60" r="1.25" fill="#d4d4d4" stroke="#a0a0a0" stroke-width="0.75"/>
<circle cx="416.50" cy="258.50" r="1.25" fill="#d4d4d4" stroke="#a0a0a0" stroke-width="0.75"/>
<circle cx="416.50" cy="264.00" r="1.25" fill="#d4d4d4" stroke="#a0a0a0" stroke-width="0.75"/>
<circle cx="437.65" cy="204.00" r="1.25" fill="#d4d4d4" stroke="#a0a0a0" stroke-width="0.75"/>
<circle cx="437.65" cy="213.60" r="1.25" fill="#f2eab0" stroke="#e3d46a" stroke-width="0.75"/>
<circle cx="437.65" cy="217.70" r="1.25" fill="#d4d4d4" stroke="#a0a0a0" stroke-width="0.75"/>
<circle cx="437.65" cy="223.10" r="1.25" fill="#dcd49c" stroke="#b8a860" stroke-width="0.75"/>
<circle cx="437.65" cy="228.60" r="1.25" fill="#d4d4d4" stroke="#a0a0a0" stroke-width="0.75"/>
<circle cx="437.65" cy="235.40" r="1.25" fill="#dccccc" stroke="#b09898" stroke-width="0.75"/>
<circle cx="437.65" cy="239.50" r="1.25" fill="#d4d4d4" stroke="#a0a0a0" stroke-width="0.75"/>
<circle cx="437.65" cy="246.80" r="1.25" fill="#d4d4d4" stroke="#a0a0a0" stroke-width="0.75"/>
<circle cx="437.65" cy="251.70" r="1.25" fill="#d4d4d4" stroke="#a0a0a0" stroke-width="0.75"/>
<circle cx="437.65" cy="257.20" r="1.25" fill="#d4d4d4" stroke="#a0a0a0" stroke-width="0.75"/>
<circle cx="437.65" cy="264.00" r="1.25" fill="#d4d4d4" stroke="#a0a0a0" stroke-width="0.75"/>
<circle cx="458.80" cy="195.00" r="1.25" fill="#d4d4d4" stroke="#a0a0a0" stroke-width="0.75"/>
<circle cx="458.80" cy="204.00" r="1.25" fill="#d4d4d4" stroke="#a0a0a0" stroke-width="0.75"/>
<circle cx="458.80" cy="206.80" r="1.25" fill="#d4d4d4" stroke="#a0a0a0" stroke-width="0.75"/>
<circle cx="458.80" cy="210.90" r="1.25" fill="#f2eab0" stroke="#e3d46a" stroke-width="0.75"/>
<circle cx="458.80" cy="216.30" r="1.25" fill="#d4d4d4" stroke="#a0a0a0" stroke-width="0.75"/>
<circle cx="458.80" cy="220.40" r="1.25" fill="#dcd49c" stroke="#b8a860" stroke-width="0.75"/>
<circle cx="458.80" cy="224.50" r="1.25" fill="#f2eab0" stroke="#e3d46a" stroke-width="0.75"/>
<circle cx="458.80" cy="228.60" r="1.25" fill="#d4d4d4" stroke="#a0a0a0" stroke-width="0.75"/>
<circle cx="458.80" cy="234.00" r="1.25" fill="#d4d4d4" stroke="#a0a0a0" stroke-width="0.75"/>
<circle cx="458.80" cy="236.70" r="1.25" fill="#d4d4d4" stroke="#a0a0a0" stroke-width="0.75"/>
<circle cx="458.80" cy="244.10" r="1.25" fill="#dccccc" stroke="#b09898" stroke-width="0.75"/>
<circle cx="458.80" cy="259.90" r="1.25" fill="#d4d4d4" stroke="#a0a0a0" stroke-width="0.75"/>
<circle cx="458.80" cy="264.00" r="1.25" fill="#d4d4d4" stroke="#a0a0a0" stroke-width="0.75"/>
<circle cx="479.95" cy="190.40" r="1.25" fill="#d4d4d4" stroke="#a0a0a0" stroke-width="0.75"/>
<circle cx="479.95" cy="191.80" r="1.25" fill="#d4d4d4" stroke="#a0a0a0" stroke-width="0.75"/>
<circle cx="479.95" cy="194.50" r="1.25" fill="#d4d4d4" stroke="#a0a0a0" stroke-width="0.75"/>
<circle cx="479.95" cy="220.40" r="1.25" fill="#f2eab0" stroke="#e3d46a" stroke-width="0.75"/>
<circle cx="479.95" cy="227.20" r="1.25" fill="#f2eab0" stroke="#e3d46a" stroke-width="0.75"/>
<circle cx="479.95" cy="232.70" r="1.25" fill="#d4d4d4" stroke="#a0a0a0" stroke-width="0.75"/>
<circle cx="479.95" cy="239.50" r="1.25" fill="#d4d4d4" stroke="#a0a0a0" stroke-width="0.75"/>
<circle cx="479.95" cy="251.70" r="1.25" fill="#d4d4d4" stroke="#a0a0a0" stroke-width="0.75"/>
<circle cx="479.95" cy="254.40" r="1.25" fill="#d4d4d4" stroke="#a0a0a0" stroke-width="0.75"/>
<circle cx="479.95" cy="259.90" r="1.25" fill="#d4d4d4" stroke="#a0a0a0" stroke-width="0.75"/>
<circle cx="479.95" cy="265.30" r="1.25" fill="#d4d4d4" stroke="#a0a0a0" stroke-width="0.75"/>
<circle cx="479.95" cy="270.20" r="1.25" fill="#dccccc" stroke="#b09898" stroke-width="0.75"/>
<circle cx="522.25" cy="182.30" r="1.25" fill="#c4d4cc" stroke="#88a898" stroke-width="0.75"/>
<circle cx="522.25" cy="189.00" r="1.25" fill="#c4d4cc" stroke="#88a898" stroke-width="0.75"/>
<circle cx="522.25" cy="189.90" r="1.25" fill="#d4d4d4" stroke="#a0a0a0" stroke-width="0.75"/>
<circle cx="522.25" cy="228.60" r="1.25" fill="#dcd49c" stroke="#b8a860" stroke-width="0.75"/>
<circle cx="522.25" cy="232.70" r="1.25" fill="#dccccc" stroke="#b09898" stroke-width="0.75"/>
<circle cx="522.25" cy="239.50" r="1.25" fill="#d4d4d4" stroke="#a0a0a0" stroke-width="0.75"/>
<circle cx="522.25" cy="245.70" r="1.25" fill="#c4d4cc" stroke="#88a898" stroke-width="0.75"/>
<circle cx="522.25" cy="250.40" r="1.25" fill="#f2eab0" stroke="#e3d46a" stroke-width="0.75"/>
<circle cx="522.25" cy="265.30" r="1.25" fill="#d4d4d4" stroke="#a0a0a0" stroke-width="0.75"/>
<circle cx="522.25" cy="269.40" r="1.25" fill="#d4d4d4" stroke="#a0a0a0" stroke-width="0.75"/>
<polyline points="310.75,249.20 353.05,236.90 395.35,227.20 416.50,221.80 437.65,217.10 458.80,214.40 479.95,213.00 522.25,215.00" fill="none" stroke="#1f7a31" stroke-width="1.35" stroke-linejoin="round" stroke-linecap="round"/>
<polyline points="310.75,256.50 353.05,245.60 395.35,243.80 416.50,247.60 437.65,254.40 458.80,259.90 479.95,264.50 522.25,270.80" fill="none" stroke="#262626" stroke-width="1.35" stroke-linejoin="round" stroke-linecap="round"/>
<polyline points="310.75,255.30 353.05,239.50 395.35,235.40 416.50,240.80 437.65,250.40 458.80,258.50 479.95,264.50 522.25,270.20" fill="none" stroke="#ab3e42" stroke-width="1.35" stroke-linejoin="round" stroke-linecap="round"/>
<polyline points="310.75,252.10 353.05,235.20 395.35,223.60 416.50,224.90 437.65,229.50 458.80,236.70 479.95,247.10 522.25,261.80" fill="none" stroke="#f1d722" stroke-width="1.35" stroke-linejoin="round" stroke-linecap="round"/>
<rect x="310.5" y="161" width="91.80000000000001" height="31.599999999999994" fill="#fff" stroke="#999" stroke-width="0.9"/>
<line x1="315.20" y1="167.30" x2="325.10" y2="167.30" stroke="#151515" stroke-width="1.8"/>
<text x="329.10" y="169.30" font-size="5.6" textLength="66.0" lengthAdjust="spacingAndGlyphs" fill="#333333">LM19:r= 0.5177, r2= -0.0615</text>
<line x1="315.20" y1="173.60" x2="325.10" y2="173.60" stroke="#eadc3a" stroke-width="1.8"/>
<text x="332.00" y="175.60" font-size="5.6" textLength="64.3" lengthAdjust="spacingAndGlyphs" fill="#333333">SF1: r= -0.5274, r2= -0.0491</text>
<line x1="315.20" y1="180.00" x2="325.10" y2="180.00" stroke="#c4707a" stroke-width="1.5"/>
<text x="329.10" y="182.00" font-size="5.6" textLength="70.5" lengthAdjust="spacingAndGlyphs" fill="#333333">LM62: r= 0.6498, r2= -0.07456</text>
<line x1="315.20" y1="186.30" x2="325.10" y2="186.30" stroke="#1c6a35" stroke-width="1.8"/>
<text x="330.90" y="188.30" font-size="5.6" textLength="64.2" lengthAdjust="spacingAndGlyphs" fill="#333333">NS3: r= 0.2517, r2= -0.0133</text>
<text x="408.40" y="169.00" font-size="11.5" font-weight="bold" textLength="59.6" lengthAdjust="spacingAndGlyphs" fill="#111" stroke="#111" stroke-width="0.2">Combined</text>
<text x="510.80" y="170.40" font-size="13.8" font-weight="bold" fill="#111" stroke="#111" stroke-width="0.35">B</text>
<text x="520.70" y="173.50" font-size="9.8" font-weight="bold" fill="#111" stroke="#111" stroke-width="0.25">4</text>
<circle cx="178.6" cy="338.1" r="3.2" fill="#000"/>
<circle cx="230.6" cy="338.1" r="3.2" fill="#1f9ad6"/>
<circle cx="287.9" cy="338.1" r="3.2" fill="#ff0000"/>
<circle cx="325.7" cy="338.1" r="3.2" fill="#7030a0"/>
<text x="185.10" y="342.00" font-size="11" textLength="38.4" lengthAdjust="spacingAndGlyphs" fill="#111">Control</text>
<text x="237.40" y="342.00" font-size="11" textLength="42.3" lengthAdjust="spacingAndGlyphs" fill="#111">Drought</text>
<text x="294.40" y="342.00" font-size="11" textLength="24.3" lengthAdjust="spacingAndGlyphs" fill="#111">Heat</text>
<text x="332.20" y="342.00" font-size="11" textLength="53.0" lengthAdjust="spacingAndGlyphs" fill="#111">Combined</text>
<path d="M173.3,353.1 H398.2 V511.4" fill="none" stroke="#a0a0a0" stroke-width="1"/>
<line x1="173.30" y1="353.10" x2="173.30" y2="511.40" stroke="#7f7f7f" stroke-width="1.2"/>
<line x1="173.30" y1="511.40" x2="398.20" y2="511.40" stroke="#7f7f7f" stroke-width="1.2"/>
<line x1="173.30" y1="398.57" x2="398.20" y2="398.57" stroke="#404040" stroke-width="1.0"/>
<line x1="169.60" y1="511.50" x2="173.30" y2="511.50" stroke="#7f7f7f" stroke-width="1"/>
<text x="163.20" y="515.50" font-size="11.2" text-anchor="end" textLength="10.95" lengthAdjust="spacingAndGlyphs" fill="#111">-5</text>
<line x1="169.60" y1="488.91" x2="176.50" y2="488.91" stroke="#7f7f7f" stroke-width="1"/>
<text x="163.20" y="492.91" font-size="11.2" text-anchor="end" textLength="10.95" lengthAdjust="spacingAndGlyphs" fill="#111">-4</text>
<line x1="169.60" y1="466.33" x2="176.50" y2="466.33" stroke="#7f7f7f" stroke-width="1"/>
<text x="163.20" y="470.33" font-size="11.2" text-anchor="end" textLength="10.95" lengthAdjust="spacingAndGlyphs" fill="#111">-3</text>
<line x1="169.60" y1="443.74" x2="176.50" y2="443.74" stroke="#7f7f7f" stroke-width="1"/>
<text x="163.20" y="447.74" font-size="11.2" text-anchor="end" textLength="10.95" lengthAdjust="spacingAndGlyphs" fill="#111">-2</text>
<line x1="169.60" y1="421.16" x2="176.50" y2="421.16" stroke="#7f7f7f" stroke-width="1"/>
<text x="163.20" y="425.16" font-size="11.2" text-anchor="end" textLength="10.95" lengthAdjust="spacingAndGlyphs" fill="#111">-1</text>
<line x1="169.60" y1="398.57" x2="176.50" y2="398.57" stroke="#7f7f7f" stroke-width="1"/>
<text x="163.20" y="402.57" font-size="11.2" text-anchor="end" textLength="6.85" lengthAdjust="spacingAndGlyphs" fill="#111">0</text>
<line x1="169.60" y1="375.98" x2="176.50" y2="375.98" stroke="#7f7f7f" stroke-width="1"/>
<text x="163.20" y="379.98" font-size="11.2" text-anchor="end" textLength="6.85" lengthAdjust="spacingAndGlyphs" fill="#111">1</text>
<line x1="169.60" y1="353.40" x2="176.50" y2="353.40" stroke="#7f7f7f" stroke-width="1"/>
<text x="163.20" y="357.40" font-size="11.2" text-anchor="end" textLength="6.85" lengthAdjust="spacingAndGlyphs" fill="#111">2</text>
<line x1="229.32" y1="395.20" x2="229.32" y2="401.80" stroke="#404040" stroke-width="0.9"/>
<line x1="285.74" y1="395.20" x2="285.74" y2="401.80" stroke="#404040" stroke-width="0.9"/>
<line x1="342.16" y1="395.20" x2="342.16" y2="401.80" stroke="#404040" stroke-width="0.9"/>
<text x="172.90" y="529.60" font-size="11.2" text-anchor="middle" textLength="6.85" lengthAdjust="spacingAndGlyphs" fill="#111">0</text>
<text x="229.32" y="529.60" font-size="11.2" text-anchor="middle" textLength="13.7" lengthAdjust="spacingAndGlyphs" fill="#111">50</text>
<text x="285.74" y="529.60" font-size="11.2" text-anchor="middle" textLength="20.56" lengthAdjust="spacingAndGlyphs" fill="#111">100</text>
<text x="342.16" y="529.60" font-size="11.2" text-anchor="middle" textLength="20.56" lengthAdjust="spacingAndGlyphs" fill="#111">150</text>
<text x="398.58" y="529.60" font-size="11.2" text-anchor="middle" textLength="20.56" lengthAdjust="spacingAndGlyphs" fill="#111">200</text>
<text x="178.80" y="367.10" font-size="14.7" textLength="11.9" lengthAdjust="spacingAndGlyphs" fill="#111" stroke="#111" stroke-width="0.3">C</text>
<text x="220.00" y="544.30" font-size="11.0" font-weight="bold" textLength="131.8" lengthAdjust="spacingAndGlyphs" fill="#111" stroke="#111" stroke-width="0.25">Water consumption, g</text>
<text transform="translate(147.3,432.1) rotate(-90)" font-size="11.2" font-weight="bold" text-anchor="middle" fill="#111" stroke="#111" stroke-width="0.25" textLength="37" lengthAdjust="spacingAndGlyphs">ΔT, °C</text>
<circle cx="367.8" cy="358.7" r="2.1" fill="none" stroke="#666" stroke-width="0.8"/>
<rect x="365.8" y="366.8" width="4.0" height="4.0" fill="none" stroke="#777" stroke-width="0.8"/>
<path d="M365.3,381.0 L367.8,376.4 L370.3,381.0 Z" fill="#000"/>
<path d="M367.8,385.9 L370.3,388.4 L367.8,390.9 L365.3,388.4 Z" fill="#000"/>
<text x="372.00" y="361.70" font-size="8.4" textLength="20.9" lengthAdjust="spacingAndGlyphs" fill="#222">LM19</text>
<text x="372.00" y="371.80" font-size="8.4" textLength="14.0" lengthAdjust="spacingAndGlyphs" fill="#222">SF1</text>
<text x="372.00" y="381.70" font-size="8.4" textLength="20.9" lengthAdjust="spacingAndGlyphs" fill="#222">LM62</text>
<text x="372.00" y="391.40" font-size="8.4" textLength="15.7" lengthAdjust="spacingAndGlyphs" fill="#222">NS3</text>
<line x1="216.40" y1="418.50" x2="352.60" y2="494.60" stroke="#1a1a1a" stroke-width="1.1"/>
<path d="M219.95,361.4 L223.25,364.7 L219.95,368.0 L216.64999999999998,364.7 Z" fill="#1b8fd4"/>
<path d="M225.60,382.05 L228.80,375.75 L232.00,382.05 Z" fill="#1b8fd4"/>
<path d="M253.20,404.00 L256.40,397.80 L259.60,404.00 Z" fill="#000"/>
<circle cx="256.3" cy="412.1" r="3.2" fill="none" stroke="#6a6a6a" stroke-width="1"/>
<path d="M253.20,418.20 L256.40,412.00 L259.60,418.20 Z" fill="#7030a0"/>
<circle cx="235.8" cy="412.5" r="3.1" fill="none" stroke="#8ac3e0" stroke-width="1"/>
<path d="M216.0,410.6 L219.4,414.0 L216.0,417.4 L212.6,414.0 Z" fill="#7030a0"/>
<path d="M260.6,427.0 L263.6,430.0 L260.6,433.0 L257.6,430.0 Z" fill="#000"/>
<rect x="250.40" y="439.30" width="6.2" height="6.2" fill="none" stroke="#b09ac8" stroke-width="1"/>
<rect x="220.80" y="445.20" width="6.2" height="6.2" fill="none" stroke="#8ac3e0" stroke-width="1"/>
<rect x="240.70" y="450.10" width="6.2" height="6.2" fill="none" stroke="#666" stroke-width="1"/>
<circle cx="258.8" cy="460.1" r="3.1" fill="none" stroke="#b09ac8" stroke-width="1"/>
<path d="M268.5,464.70000000000005 L271.9,468.1 L268.5,471.5 L265.1,468.1 Z" fill="#ff0000"/>
<circle cx="324.3" cy="454.6" r="3.2" fill="none" stroke="#f08080" stroke-width="1"/>
<path d="M349.20,498.00 L352.60,491.60 L356.00,498.00 Z" fill="#ff0000"/>
<rect x="341.60" y="499.90" width="6.4" height="6.4" fill="none" stroke="#f08080" stroke-width="1"/>
<line x1="218.50" y1="398.90" x2="259.20" y2="423.80" stroke="#222" stroke-width="1.2" stroke-dasharray="3.2,1.9"/>
<text x="275.20" y="417.90" font-size="8.6" textLength="99.4" lengthAdjust="spacingAndGlyphs" fill="#222">y = -0.0305x + 1.2031</text>
<text x="298.10" y="427.50" font-size="8.6" textLength="53.7" lengthAdjust="spacingAndGlyphs" fill="#222">R² = 0.0968</text>
<text x="215.30" y="488.30" font-size="8.6" textLength="100.2" lengthAdjust="spacingAndGlyphs" fill="#222">y = -0.0277x + 0.1679</text>
<text x="238.60" y="498.50" font-size="8.6" textLength="52.7" lengthAdjust="spacingAndGlyphs" fill="#222">R² = 0.7084</text>
</svg>
</body></html>
